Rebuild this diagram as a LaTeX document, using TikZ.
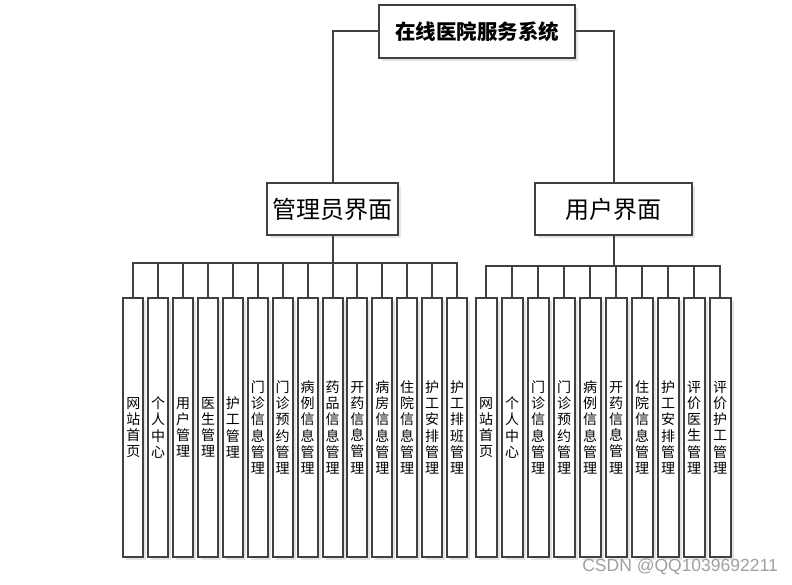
\documentclass[tikz,border=0pt]{standalone}
\usepackage{fontspec}
\setmainfont{Noto Sans CJK SC}
\newfontfamily\cjk{Noto Sans CJK SC}
\newfontfamily\wmfont{Liberation Sans}
\usetikzlibrary{shadows}
\definecolor{linegray}{HTML}{404040}
\definecolor{shadegray}{HTML}{E4E4E4}
\definecolor{wmgray}{HTML}{A0A0A0}
\tikzset{
  boxshadow/.style={drop shadow={shadow xshift=3pt,shadow yshift=-3pt,fill=shadegray,opacity=1}},
  topbox/.style={draw=linegray,line width=2.2pt,fill=white,boxshadow,minimum width=196pt,minimum height=53pt,inner sep=0pt,font=\cjk\fontsize{20.5}{22}\selectfont\bfseries},
  midbox/.style={draw=linegray,line width=2.2pt,fill=white,boxshadow,minimum height=52pt,inner sep=0pt,font=\cjk\fontsize{24}{26}\selectfont},
  leafbox/.style={draw=linegray,line width=2pt,fill=white,boxshadow,minimum width=20pt,minimum height=259pt,inner sep=0pt,align=center,font=\cjk\fontsize{14}{16.2}\selectfont},
  conn/.style={draw=linegray,line width=2pt}
}
\begin{document}
\begin{tikzpicture}[x=1pt,y=-1pt]
\useasboundingbox (0,0) rectangle (792,585);
\fill[white] (0,0) rectangle (792,585);
% top
\node[topbox] (top) at (477,31.5) {在线医院服务系统};
\node[midbox,minimum width=131pt] (admin) at (332.5,209) {管理员界面};
\node[midbox,minimum width=157pt] (user) at (613.5,209) {用户界面};
\draw[conn] (top.west) -| (admin.north);
\draw[conn] (top.east) -| (user.north);
% admin leaves
\foreach \i/\t in {0/网\\站\\首\\页,1/个\\人\\中\\心,2/用\\户\\管\\理,3/医\\生\\管\\理,4/护\\工\\管\\理,5/门\\诊\\信\\息\\管\\理,6/门\\诊\\预\\约\\管\\理,7/病\\例\\信\\息\\管\\理,8/药\\品\\信\\息\\管\\理,9/开\\药\\信\\息\\管\\理,10/病\\房\\信\\息\\管\\理,11/住\\院\\信\\息\\管\\理,12/护\\工\\安\\排\\管\\理,13/护\\工\\排\\班\\管\\理}
  {\node[leafbox] (a\i) at ({133.3+24.9*\i},427.5) {\t};}
\coordinate (abus) at (332.5,263);
\draw[conn] (admin.south) -- (abus);
\foreach \i in {0,...,13} {\draw[conn] (abus) -| (a\i.north);}
% user leaves
\foreach \i/\t in {0/网\\站\\首\\页,1/个\\人\\中\\心,2/门\\诊\\信\\息\\管\\理,3/门\\诊\\预\\约\\管\\理,4/病\\例\\信\\息\\管\\理,5/开\\药\\信\\息\\管\\理,6/住\\院\\信\\息\\管\\理,7/护\\工\\安\\排\\管\\理,8/评\\价\\医\\生\\管\\理,9/评\\价\\护\\工\\管\\理}
  {\node[leafbox,minimum width=21pt] (u\i) at ({486+26*\i},427.5) {\t};}
\coordinate (ubus) at (613.5,266);
\draw[conn] (user.south) -- (ubus);
\foreach \i in {0,...,9} {\draw[conn] (ubus) -| (u\i.north);}
% watermark
\node[anchor=east,text=wmgray,inner sep=0pt,font=\wmfont\fontsize{17.5}{19}\selectfont] (wm) at (778,567) {CSDN @QQ1039692211};
\end{tikzpicture}
\end{document}
